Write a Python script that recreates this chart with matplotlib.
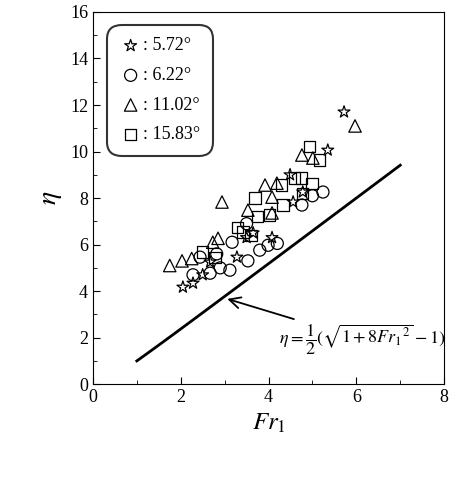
import numpy as np
import matplotlib
matplotlib.use("Agg")
import matplotlib.pyplot as plt
plt.rcParams['font.family'] = ['Liberation Serif', 'DejaVu Serif']
plt.rcParams['mathtext.fontset'] = 'stix'

star_x = [2.05,2.28,2.5,2.67,3.28,3.5,4.08,3.65,4.49,4.78,4.56,5.35,5.72]
star_y = [4.17,4.34,4.7,5.25,5.46,6.3,6.3,6.5,9.0,8.26,7.83,10.06,11.7]
circ_x = [2.28,2.67,2.9,3.12,3.53,3.8,3.99,4.2,3.17,3.5,4.76,5.0,5.24,2.82,2.44]
circ_y = [4.7,4.77,5.0,4.9,5.3,5.76,5.97,6.05,6.1,6.9,7.7,8.1,8.26,5.6,5.46]
tri_x = [1.75,2.03,2.25,2.73,2.85,2.94,3.53,4.08,3.92,4.19,4.76,5.01,5.97,4.08]
tri_y = [5.1,5.3,5.4,6.1,6.27,7.83,7.48,8.04,8.56,8.64,9.85,9.72,11.1,7.36]
sq_x = [2.5,2.78,3.3,3.42,3.6,3.69,3.74,4.03,4.33,4.3,4.6,4.76,4.99,4.78,4.94,5.17]
sq_y = [5.68,5.46,6.75,6.54,6.4,8.0,7.2,7.27,7.7,8.56,8.86,8.86,8.64,8.2,10.2,9.64]

fig = plt.figure(figsize=(4.74, 4.79), dpi=100)
ax = fig.add_axes([0.196, 0.198, 0.741, 0.777])
kw = dict(facecolor='none', edgecolor='black', linewidths=0.9)
ax.scatter(star_x, star_y, marker='*', s=80, label=': 5.72°', **kw)
ax.scatter(circ_x, circ_y, marker='o', s=75, label=': 6.22°', **kw)
ax.scatter(tri_x, tri_y, marker='^', s=80, label=': 11.02°', **kw)
ax.scatter(sq_x, sq_y, marker='s', s=65, label=': 15.83°', **kw)

fr = np.linspace(1, 7, 100)
ax.plot(fr, 0.5*(np.sqrt(1+8*fr**2)-1), color='black', lw=2)
ax.annotate(r'$\eta=\dfrac{1}{2}(\sqrt{1+8Fr_1{}^2}-1)$', xy=(3.0, 3.7), xytext=(4.25, 1.9),
            fontsize=13, va='center',
            arrowprops=dict(arrowstyle='->', lw=1.3, color='black', mutation_scale=20))

ax.set_xlim(0, 8); ax.set_ylim(0, 16)
ax.set_xticks([0,2,4,6,8]); ax.set_yticks(range(0,17,2))
ax.set_xticks(np.arange(0,8.1,1), minor=True); ax.set_yticks(range(0,17,1), minor=True)
ax.tick_params(direction='in', which='both', labelsize=13, top=False, right=False)
ax.tick_params(which='major', length=5); ax.tick_params(which='minor', length=3)
ax.set_xlabel(r'$Fr_1$', fontsize=18)
ax.set_ylabel(r'$\eta$', fontsize=20)
leg = ax.legend(loc='upper left', fontsize=13, frameon=True, fancybox=True, edgecolor='black',
                handletextpad=0.1, borderpad=0.6, labelspacing=0.7, handlelength=1.2,
                bbox_to_anchor=(0.02, 0.985))
leg.get_frame().set_linewidth(1.5)
leg.get_frame().set_boxstyle('round', pad=0.1, rounding_size=0.8)
fig.savefig('out.png', dpi=100)
